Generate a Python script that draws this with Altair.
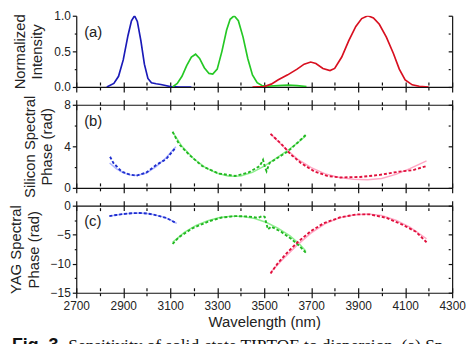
import altair as alt
import pandas as pd

# ---------------- data ----------------
# (a) normalized intensity
a_blue_w = [2830, 2860, 2880, 2900, 2920, 2935, 2948, 2960, 2975, 2990, 3005, 3020, 3040, 3060, 3080, 3100, 3140, 3190]
a_blue_v = [0.0, 0.05, 0.15, 0.38, 0.72, 0.93, 1.0, 0.92, 0.65, 0.32, 0.12, 0.06, 0.045, 0.035, 0.02, 0.005, 0.0, 0.0]
a_green_w = [3110, 3130, 3150, 3170, 3190, 3208, 3225, 3245, 3265, 3281, 3300, 3320, 3340, 3355, 3372, 3390, 3410, 3430, 3450, 3470, 3490, 3510, 3560, 3600, 3640, 3680]
a_green_v = [0.0, 0.05, 0.15, 0.3, 0.42, 0.46, 0.4, 0.27, 0.19, 0.18, 0.25, 0.5, 0.8, 0.95, 1.0, 0.93, 0.7, 0.4, 0.17, 0.06, 0.02, 0.01, 0.02, 0.025, 0.02, 0.005]
a_red_w = [3450, 3500, 3530, 3560, 3600, 3640, 3670, 3698, 3720, 3750, 3780, 3800, 3830, 3860, 3890, 3915, 3941, 3965, 3990, 4020, 4050, 4075, 4100, 4130, 4160, 4200]
a_red_v = [0.0, 0.005, 0.04, 0.1, 0.17, 0.25, 0.32, 0.35, 0.33, 0.26, 0.23, 0.26, 0.42, 0.65, 0.85, 0.96, 1.0, 0.97, 0.88, 0.7, 0.47, 0.25, 0.1, 0.03, 0.01, 0.0]

# (b) silicon spectral phase: measured (dashed) and fit (solid, light)
b_blue_w = [2844, 2858, 2893, 2925, 2956, 2998, 3040, 3082, 3124]
b_blue_m = [3.0, 2.4, 1.57, 1.3, 1.18, 1.47, 2.2, 2.75, 3.9]
b_blue_fw = [2842, 2870, 2900, 2930, 2960, 3000, 3040, 3080, 3124]
b_blue_f = [2.4, 1.85, 1.45, 1.25, 1.2, 1.45, 2.05, 2.85, 3.95]
b_green_w = [3110, 3138, 3180, 3236, 3306, 3376, 3432, 3481, 3495, 3503, 3510, 3523, 3558, 3600, 3642, 3677]
b_green_m = [5.4, 4.2, 3.2, 2.1, 1.38, 1.15, 1.47, 2.1, 2.7, 2.0, 1.6, 2.4, 2.9, 3.5, 4.35, 5.1]
b_green_fw = [3110, 3150, 3200, 3250, 3300, 3350, 3400, 3450, 3500, 3550, 3600, 3640, 3677]
b_green_f = [5.4, 4.0, 2.8, 1.95, 1.4, 1.12, 1.15, 1.5, 2.1, 2.85, 3.6, 4.3, 5.0]
b_red_w = [3527, 3572, 3614, 3656, 3712, 3768, 3824, 3908, 3992, 4076, 4132, 4191]
b_red_m = [5.2, 4.25, 3.2, 2.4, 1.6, 1.15, 1.0, 1.05, 1.25, 1.57, 1.7, 2.1]
b_red_fw = [3527, 3580, 3640, 3700, 3760, 3820, 3880, 3940, 4000, 4060, 4120, 4191]
b_red_f = [5.2, 4.0, 2.8, 1.95, 1.35, 1.0, 0.82, 0.78, 0.9, 1.3, 1.85, 2.6]

# (c) YAG spectral phase
c_blue_w = [2841, 2870, 2900, 2935, 2970, 3000, 3026, 3055, 3082, 3105, 3127]
c_blue_m = [-1.8, -1.6, -1.44, -1.3, -1.26, -1.35, -1.5, -1.8, -2.1, -2.55, -3.06]
c_green_w = [3110, 3138, 3194, 3264, 3320, 3376, 3432, 3474, 3490, 3502, 3510, 3516, 3530, 3572, 3614, 3649, 3677]
c_green_m = [-6.6, -5.4, -3.9, -2.7, -2.04, -1.8, -1.86, -2.1, -1.8, -1.9, -3.2, -4.08, -3.6, -4.5, -5.7, -6.9, -8.1]
c_green_fw = [3110, 3160, 3210, 3260, 3310, 3360, 3410, 3460, 3510, 3560, 3610, 3650, 3677]
c_green_f = [-6.3, -4.6, -3.4, -2.6, -2.05, -1.8, -1.85, -2.2, -2.9, -3.9, -5.2, -6.6, -7.8]
c_red_w = [3527, 3558, 3600, 3642, 3698, 3754, 3824, 3894, 3950, 4020, 4090, 4146, 4191]
c_red_m = [-11.7, -9.9, -8.0, -6.3, -4.4, -3.0, -2.0, -1.5, -1.5, -2.1, -3.3, -4.5, -6.3]
c_red_fw = [3527, 3580, 3640, 3700, 3760, 3820, 3880, 3940, 4000, 4060, 4120, 4191]
c_red_f = [-11.5, -9.2, -6.8, -4.7, -3.1, -2.1, -1.6, -1.45, -1.7, -2.5, -3.7, -5.7]

x_ticks = list(range(2700, 4301, 100))

caption_head = "Fig. 3"
caption_body = "Sensitivity of solid-state TIPTOE to dispersion. (a) Spectra"

FONT = "Liberation Sans"
DARK = {"blue": "#1f2fcf", "green": "#22b822", "red": "#e0103c"}
LIGHT = {"blue": "#aeb4ff", "green": "#8fee8f", "red": "#ffa6c4"}
A_COL = {"blue": "#1a1ab8", "green": "#25c825", "red": "#d81020"}


def frame(rows):
    out = []
    for name, ws, vs in rows:
        for w, v in zip(ws, vs):
            out.append({"s": name, "w": w, "v": v})
    return pd.DataFrame(out)


X_SCALE = alt.Scale(domain=[2700, 4300], nice=False, zero=False)
XMAJ = "(datum.value - 2700) % 200 == 0"


def xaxis(orient, inward=False, domain=True, labels=False, title=None):
    kw = dict(orient=orient, values=x_ticks, grid=False, domain=domain,
              domainColor="#111", domainWidth=1.2, tickColor="#111", tickWidth=1.2,
              tickSize={"condition": {"test": XMAJ, "value": 5}, "value": 3},
              labels=labels, labelFlush=False, labelOverlap=False,
              labelFont=FONT, labelFontSize=12, labelColor="#222", labelPadding=3,
              labelExpr=f"{XMAJ} ? format(datum.value, 'd') : ''",
              titleFont=FONT, titleFontSize=15, titleFontWeight="normal", titleColor="#222", titlePadding=3)
    if inward:
        kw["offset"] = -5
    return alt.Axis(title=title, **kw)


def yaxis(orient, ticks_vals, major_test, fmt, inward=False, domain=True, ticks=True,
          labels=False, title=None):
    kw = dict(orient=orient, values=ticks_vals, grid=False, domain=domain,
              domainColor="#111", domainWidth=1.2, tickColor="#111", tickWidth=1.2, ticks=ticks,
              tickSize={"condition": {"test": major_test, "value": 4}, "value": 2},
              labels=labels, labelFlush=False, labelOverlap=False,
              labelFont=FONT, labelFontSize=12, labelColor="#222", labelPadding=2,
              labelExpr=f"{major_test} ? format(datum.value, '{fmt}') : ''",
              titleFont=FONT, titleFontSize=15, titleFontWeight="normal", titleColor="#222",
              titlePadding=9, titleLineHeight=18)
    if inward:
        kw["offset"] = -4
    return alt.Axis(title=title, **kw)


def panel(df_solid, df_dash, color_solid, color_dash, ydom, yvals, ymaj, yfmt, ytitle,
          label, height, top_axis=True, bottom_labels=False, xtitle=None, solid_width=1.5,
          extra=None):
    ysc = alt.Scale(domain=ydom, nice=False, zero=False)
    layers = []
    base = df_solid if df_solid is not None else df_dash

    def carrier(xa, ya):
        return alt.Chart(base).mark_point(opacity=0).encode(
            x=alt.X("w:Q", scale=X_SCALE, axis=xa),
            y=alt.Y("v:Q", scale=ysc, axis=ya),
        )

    layers.append(carrier(
        xaxis("bottom", labels=bottom_labels, title=xtitle),
        yaxis("left", yvals, ymaj, yfmt, labels=True, title=ytitle)))
    layers.append(carrier(
        xaxis("bottom", inward=True, domain=False),
        yaxis("right", yvals, ymaj, yfmt, ticks=False)))
    layers.append(carrier(
        xaxis("top") if top_axis else None,
        yaxis("right", yvals, ymaj, yfmt, inward=True, domain=False)))
    if top_axis:
        layers.append(carrier(xaxis("top", inward=True, domain=False), None))

    if df_solid is not None:
        layers.append(alt.Chart(df_solid).mark_line(strokeWidth=solid_width, clip=True).encode(
            x=alt.X("w:Q", scale=X_SCALE, axis=None),
            y=alt.Y("v:Q", scale=ysc, axis=None),
            detail="s:N",
            color=alt.Color("s:N", scale=alt.Scale(domain=list(color_solid.keys()),
                                                   range=list(color_solid.values())), legend=None),
        ))
    if df_dash is not None:
        layers.append(alt.Chart(df_dash).mark_line(strokeWidth=1.9, strokeDash=[3, 2], clip=True).encode(
            x=alt.X("w:Q", scale=X_SCALE, axis=None),
            y=alt.Y("v:Q", scale=ysc, axis=None),
            detail="s:N",
            color=alt.Color("s:N", scale=alt.Scale(domain=list(color_dash.keys()),
                                                   range=list(color_dash.values())), legend=None),
        ))
    layers.append(alt.Chart(pd.DataFrame({"t": [label]})).mark_text(
        font=FONT, fontSize=15, align="left", baseline="middle", color="#222"
    ).encode(text="t:N", x=alt.value(8), y=alt.value(16)))
    if extra:
        layers.extend(extra)

    return alt.layer(*layers).resolve_scale(color="independent").resolve_axis(
        x="independent", y="independent").properties(width=380, height=height)


dfa = frame([("blue", a_blue_w, a_blue_v), ("green", a_green_w, a_green_v), ("red", a_red_w, a_red_v)])
pa = panel(dfa, None, A_COL, None, [0, 1], [0, 0.25, 0.5, 0.75, 1.0], "datum.value % 0.5 == 0", ".1f",
           ["Normalized", "Intensity"], "(a)", 72, top_axis=False, solid_width=1.7)

dfb_s = frame([("blue", b_blue_fw, b_blue_f), ("green", b_green_fw, b_green_f), ("red", b_red_fw, b_red_f)])
dfb_d = frame([("blue", b_blue_w, b_blue_m), ("green", b_green_w, b_green_m), ("red", b_red_w, b_red_m)])
pb = panel(dfb_s, dfb_d, LIGHT, DARK, [0, 8], [0, 2, 4, 6, 8], "datum.value % 4 == 0", "d",
           ["Silicon Spectral", "Phase (rad)"], "(b)", 84)

cap1 = alt.Chart(pd.DataFrame({"t": [caption_head]})).mark_text(
    font=FONT, fontSize=18, fontWeight="bold", align="left", baseline="alphabetic", color="#111"
).encode(text="t:N", x=alt.value(-65), y=alt.value(147))
cap2 = alt.Chart(pd.DataFrame({"t": [caption_body]})).mark_text(
    font="Liberation Serif", fontSize=17.5, align="left", baseline="alphabetic", color="#111",
    limit=401, ellipsis=""
).encode(text="t:N", x=alt.value(-8), y=alt.value(147))

dfc_s = frame([("blue", c_blue_w, c_blue_m), ("green", c_green_fw, c_green_f), ("red", c_red_fw, c_red_f)])
dfc_d = frame([("blue", c_blue_w, c_blue_m), ("green", c_green_w, c_green_m), ("red", c_red_w, c_red_m)])
pc = panel(dfc_s, dfc_d, LIGHT, DARK, [-15, 0], [-15, -12.5, -10, -7.5, -5, -2.5, 0],
           "datum.value % 5 == 0", "d",
           ["YAG Spectral", "Phase (rad)"], "(c)", 88, bottom_labels=True, xtitle="Wavelength (nm)",
           extra=[cap1, cap2])

chart = alt.vconcat(pa, pb, pc, spacing=18, bounds="flush").properties(
    padding={"left": 0, "top": 0, "right": 0, "bottom": -13},
).configure_view(stroke=None)

chart.save("out.html", embed_options={"renderer": "svg", "actions": False})
